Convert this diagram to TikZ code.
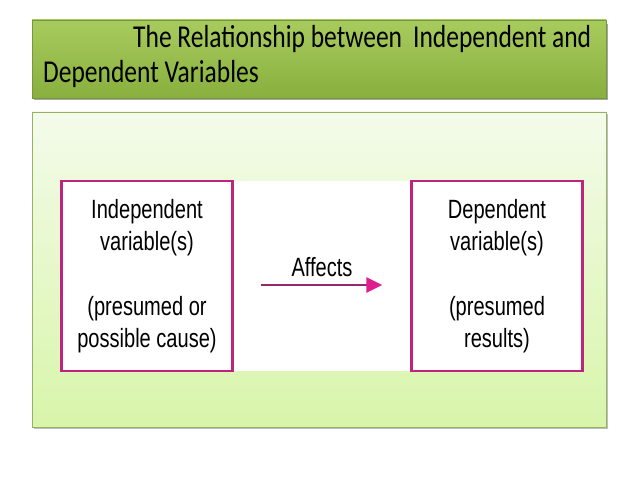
\documentclass[tikz,border=0pt]{standalone}
\usepackage{fontspec}
\setmainfont{Liberation Sans}
\newfontfamily\titlefont[FakeStretch=0.8]{Carlito}
\newfontfamily\boxfont[FakeStretch=0.76]{Liberation Sans}
\usetikzlibrary{arrows.meta, calc, positioning}

\definecolor{bannertop}{RGB}{168,203,94}
\definecolor{bannerbot}{RGB}{136,176,62}
\definecolor{bannerline}{RGB}{120,150,60}
\definecolor{panetop}{RGB}{244,251,234}
\definecolor{panebot}{RGB}{216,245,170}
\definecolor{paneline}{RGB}{150,176,100}
\definecolor{boxline}{RGB}{190,35,125}
\definecolor{arrowline}{RGB}{150,40,110}
\definecolor{arrowhead}{RGB}{222,30,140}

\tikzset{
  varbox/.style={draw=boxline, line width=2.2bp, fill=white, minimum width=171bp,
    minimum height=190bp, align=center, font=\boxfont\fontsize{26.5}{32.5}\selectfont},
  titletext/.style={anchor=base west, inner sep=0pt, font=\titlefont\fontsize{32}{35}\selectfont}
}

\begin{document}
\begin{tikzpicture}[x=1bp, y=-1bp]
\useasboundingbox (0,0) rectangle (638,479);
% banner
\fill[black!35] (34,24) rectangle (608,100);
\shade[top color=bannertop, bottom color=bannerbot, draw=bannerline] (32,20) rectangle (606,98);
\node[titletext] (title1) at (133,48) {The Relationship between\, Independent and};
\node[titletext] (title2) at (43,83) {Dependent Variables};
% pane
\fill[black!25] (34,114) rectangle (608,429);
\shade[top color=panetop, bottom color=panebot, draw=paneline] (32,112) rectangle (606,427);
\fill[white] (61,181) rectangle (583,371);
% boxes
\node[varbox] (indep) at (147,276) {Independent\\variable(s)\\[32.5bp](presumed or\\possible cause)};
\node[varbox] (dep) at (497,276) {Dependent\\variable(s)\\[32.5bp](presumed\\results)};
\draw[arrowline, line width=2.8bp, -{Triangle[length=16bp, width=15bp, fill=arrowhead, color=arrowhead]},
  shorten <=27bp, shorten >=28bp]
  ([yshift=-9bp]indep.east) -- node[above=4bp, font=\boxfont\fontsize{26.5}{30}\selectfont, text=black] (affects) {Affects} ([yshift=-9bp]dep.west);
\end{tikzpicture}
\end{document}
